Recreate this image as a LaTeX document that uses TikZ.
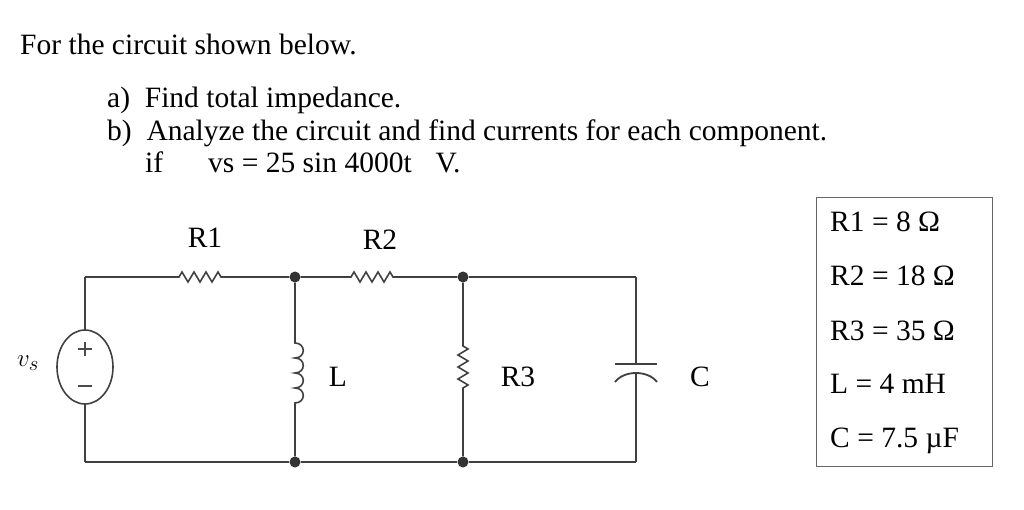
\documentclass[tikz,border=0pt]{standalone}
\usepackage{fontspec}
\setmainfont{Liberation Serif}
\usetikzlibrary{shapes.geometric}
\begin{document}
\begin{tikzpicture} [
    x=1pt, y=-1pt,
    wire/.style  = { draw, line width=1.6pt, black!75 },
    dot/.style   = { circle, fill=black!80, inner sep=0pt, minimum size=11pt },
    txt/.style   = { anchor=base west, inner sep=0pt, font=\fontsize{29.5}{34}\selectfont },
    lbl/.style   = { inner sep=0pt, font=\fontsize{29.5}{34}\selectfont },
  ]
  \useasboundingbox (0,0) rectangle (1024,510);

  % text of the problem
  \node[txt] (title) at (20,55) {For the circuit shown below.};
  \node[txt] (qa) at (107,108) {a)\ \ Find total impedance.};
  \node[txt] (qb) at (107,141) {b)\ \ Analyze the circuit and find currents for each component.};
  \node[txt] (qif) at (145,173) {if\hspace{45pt}vs = 25 sin 4000t\hspace{24pt}V.};

  % corners and junctions
  \coordinate (tl) at (85,277);
  \coordinate (bl) at (85,462);
  \coordinate (tr) at (636,277);
  \coordinate (br) at (636,462);
  \node[dot] (t1) at (295,277) {};
  \node[dot] (t2) at (463,277) {};
  \node[dot] (b1) at (295,462) {};
  \node[dot] (b2) at (463,462) {};

  % source
  \node[draw, ellipse, line width=1.6pt, black!75, minimum width=56pt, minimum height=74pt, inner sep=0pt] (vs) at (85,367) {};
  \draw[wire] (tl) -- (vs.north);
  \draw[wire] (vs.south) -- (bl);
  \draw[line width=1.4pt, black!70] (78,349) -- (92,349) (85,342) -- (85,356) (78,386) -- (92,386);
  \node[lbl] (vslbl) at (28,363) {$v_s$};

  % top wire with R1 and R2
  \draw[wire] (tl) -- (179,277) -- ++(3,-5) -- ++(6,10) -- ++(6,-10) -- ++(6,10) -- ++(6,-10) -- ++(6,10) -- ++(6,-10) -- ++(3,5) -- (t1);
  \draw[wire] (t1) -- (351,277) -- ++(3,-5) -- ++(6,10) -- ++(6,-10) -- ++(6,10) -- ++(6,-10) -- ++(6,10) -- ++(6,-10) -- ++(3,5) -- (t2);
  \draw[wire] (t2) -- (tr);
  \node[lbl] (r1lbl) at (205,238) {R1};
  \node[lbl] (r2lbl) at (380,240) {R2};

  % inductor
  \draw[wire] (t1) -- (295,343)
    .. controls (306,343) and (306,358) .. (295,358)
    .. controls (306,358) and (306,373) .. (295,373)
    .. controls (306,373) and (306,388) .. (295,388)
    .. controls (306,388) and (306,403) .. (295,403) -- (b1);
  \node[lbl] (llbl) at (338,377) {L};

  % R3
  \draw[wire] (t2) -- (463,346) -- ++(5,3) -- ++(-10,6) -- ++(10,6) -- ++(-10,6) -- ++(10,6) -- ++(-10,6) -- ++(10,6) -- ++(-5,3) -- (b2);
  \node[lbl] (r3lbl) at (518,377) {R3};

  % capacitor
  \draw[wire] (tr) -- (636,364);
  \draw[line width=1.8pt, black!75] (615,364) -- (657,364);
  \draw[line width=1.8pt, black!75] (615,382) .. controls (624,370) and (648,370) .. (657,382);
  \draw[wire] (636,373) -- (br);
  \node[lbl] (clbl) at (700,377) {C};

  % bottom wire
  \draw[wire] (bl) -- (b1) -- (b2) -- (br);

  % values box
  \node[draw, line width=0.8pt, black!60, minimum width=176pt, minimum height=269pt, inner sep=0pt] (box) at (904,331.5) {};
  \node[lbl, anchor=base west] (v1) at (830,232) {R1 = 8 Ω};
  \node[lbl, anchor=base west] (v2) at (830,286) {R2 = 18 Ω};
  \node[lbl, anchor=base west] (v3) at (830,340) {R3 = 35 Ω};
  \node[lbl, anchor=base west] (v4) at (830,393) {L = 4 mH};
  \node[lbl, anchor=base west] (v5) at (830,447) {C = 7.5 µF};
\end{tikzpicture}
\end{document}
